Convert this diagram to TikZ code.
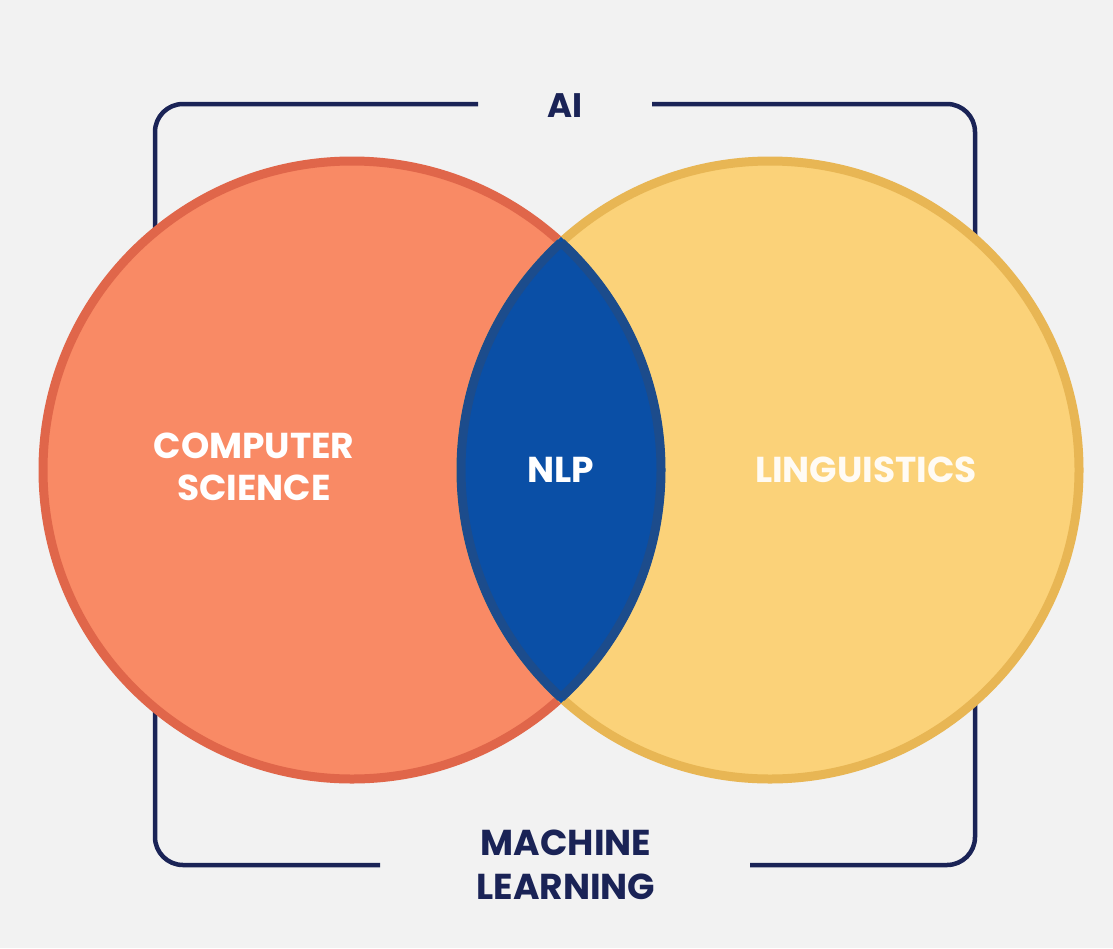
\documentclass[tikz,border=0pt]{standalone}
\usepackage{fontspec}
\setmainfont{Poppins}
\definecolor{bg}{HTML}{F2F2F2}
\definecolor{navy}{HTML}{1A2356}
\definecolor{csfill}{HTML}{F98A65}
\definecolor{csline}{HTML}{E0664A}
\definecolor{lgfill}{HTML}{FBD279}
\definecolor{lgline}{HTML}{E8B654}
\definecolor{nlp}{HTML}{0A4FA6}
\definecolor{nlpline}{HTML}{1C4C8C}
\begin{document}
\begin{tikzpicture}[x=1pt,y=-1pt,
  lbl/.style={font=\bfseries\fontsize{36}{42}\selectfont,align=center},
  frame/.style={navy,line width=4.5pt,rounded corners=28pt}]
\fill[bg] (0,0) rectangle (1113,948);
\useasboundingbox (0,0) rectangle (1113,948);
% frame
\draw[frame] (478,104) -- (155,104) -- (155,865) -- (380,865);
\draw[frame] (652,104) -- (975,104) -- (975,865) -- (750,865);
\node[lbl,navy,font=\bfseries\fontsize{34}{40}\selectfont] (ai) at (565,106) {AI};
\node[lbl,navy,font=\bfseries\fontsize{36}{44}\selectfont] (ml) at (566,865) {MACHINE\\LEARNING};
% circles
\draw[csline,fill=csfill,line width=9pt] (352,470) circle (309);
\draw[lgline,fill=lgfill,line width=9pt] (770,470) circle (309);
\begin{scope}
\clip (352,470) circle (313);
\fill[nlp] (770,470) circle (313);
\end{scope}
\begin{scope}
\clip (352,470) circle (309);
\draw[nlpline,line width=9pt] (770,470) circle (309);
\end{scope}
\begin{scope}
\clip (770,470) circle (309);
\draw[nlpline,line width=9pt] (352,470) circle (309);
\end{scope}
\node[lbl,white] (cs) at (254,467) {COMPUTER\\SCIENCE};
\node[lbl,white] (n) at (561,470) {NLP};
\node[lbl,color=white!92!lgfill] (lg) at (866,470) {LINGUISTICS};
\end{tikzpicture}
\end{document}
